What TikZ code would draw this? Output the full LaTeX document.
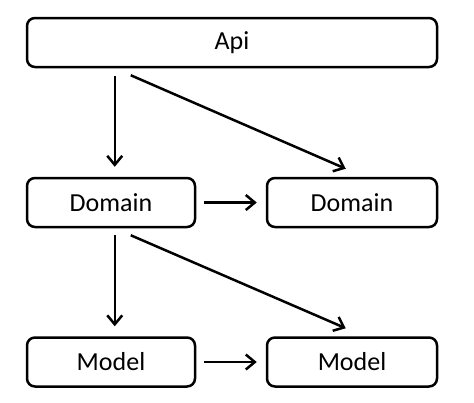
\documentclass[tikz,border=0pt]{standalone}
\usepackage{fontspec}
\setmainfont{Carlito}
\usetikzlibrary{arrows.meta}

\begin{document}
\begin{tikzpicture}[x=1pt,y=-1pt,
    box/.style={draw,line width=2.5pt,rounded corners=8pt,minimum height=49pt,
        inner sep=0pt,font=\fontsize{26}{30}\selectfont},
    arr/.style={line width=2.5pt,-{Straight Barb[length=9pt,width=15pt]}}]
    \useasboundingbox (0,0) rectangle (474,402);

    % Api
    \node[box,minimum width=410pt] (api) at (232,42.5) {Api};

    % Domain
    \node[box,minimum width=168pt] (dl) at (111,202.5) {Domain};
    \node[box,minimum width=170pt] (dr) at (352,202.5) {Domain};

    % Model
    \node[box,minimum width=168pt] (ml) at (111,362) {Model};
    \node[box,minimum width=170pt] (mr) at (352,362) {Model};

    % Api -> Domain
    \draw[arr] ([shift={(89,8)}]api.south west) -- ([shift={(89,-10)}]dl.north west);
    \draw[arr] ([shift={(105,7)}]api.south west) -- ([shift={(80,-8)}]dr.north west);

    % Domain -> Domain
    \draw[arr,shorten <=8pt,shorten >=9pt] (dl.east) -- (dr.west);

    % Domain -> Model
    \draw[arr] ([shift={(89,7)}]dl.south west) -- ([shift={(89,-10)}]ml.north west);
    \draw[arr] ([shift={(105,7)}]dl.south west) -- ([shift={(80,-8)}]mr.north west);

    % Model -> Model
    \draw[arr,shorten <=8pt,shorten >=9pt] (ml.east) -- (mr.west);

\end{tikzpicture}
\end{document}
